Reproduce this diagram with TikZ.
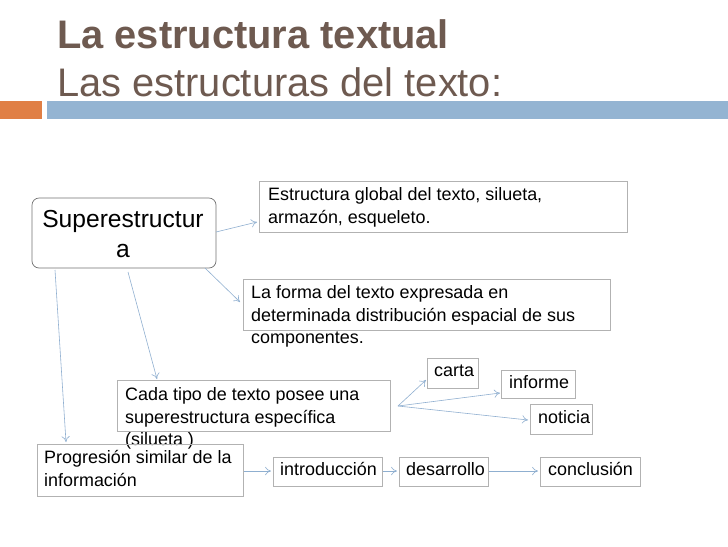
\documentclass[tikz,border=0pt]{standalone}
\usepackage{fontspec}
\setmainfont{Liberation Sans}
\usetikzlibrary{arrows.meta}
\definecolor{ttl}{HTML}{6E5A50}
\definecolor{bar1}{HTML}{E07F45}
\definecolor{bar2}{HTML}{94B4D2}
\definecolor{arr}{HTML}{8FAFD0}
\tikzset{
 bx/.style={draw=black!30,line width=0.5pt,inner sep=0pt},
 tx/.style={anchor=north west,align=left,font=\fontsize{15.3}{19.5}\selectfont,inner sep=0pt},
 ar/.style={draw=arr,line width=0.5pt,-{To[length=5pt,width=7pt]}},
}
\begin{document}
\begin{tikzpicture}[x=0.03cm,y=-0.03cm]
\useasboundingbox (0,0) rectangle (728,546);
\fill[white] (0,0) rectangle (728,546);
\node[anchor=base west,inner sep=0,text=ttl,font=\fontsize{34}{38}\selectfont\bfseries] (t1) at (57,48) {La estructura textual};
\node[anchor=base west,inner sep=0,text=ttl,font=\fontsize{34}{38}\selectfont] (t2) at (57,96) {Las estructuras del texto:};
\fill[bar1] (0,101) rectangle (42,119);
\fill[bar2] (47,101) rectangle (728,119);
% superestructura
\draw[black!55,rounded corners=6pt,line width=0.6pt] (32,198) rectangle (216,268);
\node[align=center,font=\fontsize{21}{25}\selectfont,inner sep=0] (sup) at (123,234) {Superestructur\\a};
\coordinate (supA) at (216,232);
\coordinate (supB) at (205,268);
\coordinate (supC) at (128,272);
\coordinate (supD) at (55,270);
% boxes
\draw[bx] (259,181) rectangle (627,232);
\node[tx] (b1) at (268,187) {Estructura global del texto, silueta,\\armazón, esqueleto.};
\coordinate (b1in) at (257,222);
\draw[bx] (243,279) rectangle (610,330);
\node[tx] (b2) at (251,285) {La forma del texto expresada en\\determinada distribución espacial de sus\\componentes.};
\coordinate (b2in) at (240,302);
\draw[bx] (117,380) rectangle (390,431);
\node[tx] (b3) at (125,387) {Cada tipo de texto posee una\\superestructura específica\\(silueta )};
\coordinate (b3in) at (157,379);
\coordinate (b3out) at (398,406);
\draw[bx] (427,358) rectangle (478,388);
\node[tx] (c1) at (434,365) {carta};
\draw[bx] (501,370) rectangle (575,398);
\node[tx] (c2) at (509,375) {informe};
\draw[bx] (530,404) rectangle (592,434);
\node[tx] (c3) at (538,410) {noticia};
\draw[bx] (37,444) rectangle (243,496);
\node[tx] (p) at (44,450) {Progresión similar de la\\información};
\coordinate (pin) at (66,442);
\draw[bx] (273,457) rectangle (382,486);
\node[tx] (i1) at (280,462) {introducción};
\draw[bx] (399,457) rectangle (488,486);
\node[tx] (i2) at (406,462) {desarrollo};
\draw[bx] (540,457) rectangle (640,486);
\node[tx] (i3) at (548,462) {conclusión};
% arrows
\draw[ar] (supA) -- (b1in);
\draw[ar] (supB) -- (b2in);
\draw[ar] (supC) -- (b3in);
\draw[ar] (supD) -- (pin);
\draw[ar] (b3out) -- (426,380);
\draw[ar] (b3out) -- (500,393);
\draw[ar] (b3out) -- (528,420);
\draw[ar] (244,471) -- (271,471);
\draw[ar] (383,471) -- (397,471);
\draw[ar] (489,471) -- (538,471);
\end{tikzpicture}
\end{document}
